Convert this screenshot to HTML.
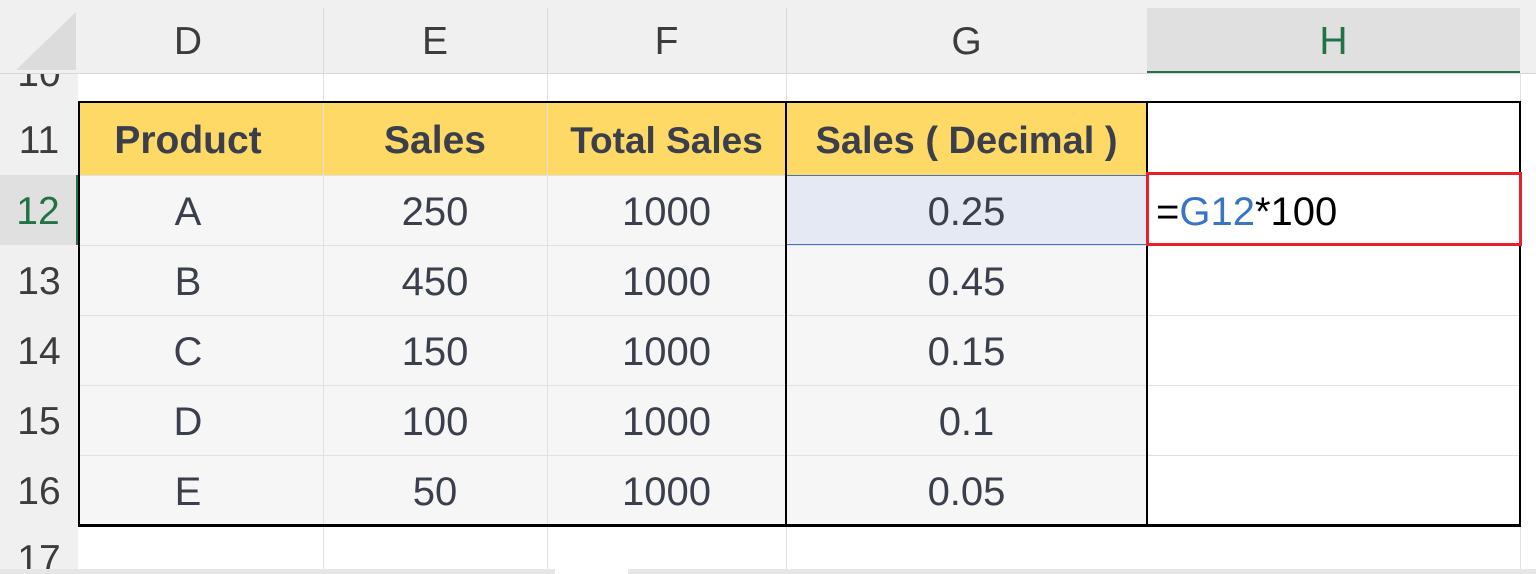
<!DOCTYPE html>
<html><head><style>
body{margin:0;width:1536px;height:574px;overflow:hidden;background:#fff;font-family:"Liberation Sans",sans-serif;position:relative}
div{position:absolute;box-sizing:border-box}
.c{display:flex;align-items:center;justify-content:center;font-size:40px;color:#3a3f4b;padding-top:4px}
.h{font-size:39px;color:#3c3c3c}
.b{font-weight:bold;font-size:39px}
</style></head><body>
<div style="left:0;top:0;width:78px;height:574px;background:#f0f0f0"></div>
<div class="c h" style="left:0;top:52px;width:78px;height:50px;align-items:flex-end;padding-bottom:6px">10</div>
<div style="left:0;top:0;width:1536px;height:73px;background:#f0f0f0"></div>
<div style="left:16px;top:12px;width:0;height:0;border-left:60px solid transparent;border-bottom:58px solid #dcdcdc"></div>
<div style="left:1147px;top:8px;width:373px;height:65px;background:#e0e0e0;border-bottom:2px solid #217346"></div>
<div style="left:0;top:175px;width:78px;height:70px;background:#e0e0e0;border-right:2px solid #217346"></div>
<div class="c h" style="left:78px;top:6px;width:220px;height:68px">D</div>
<div class="c h" style="left:323px;top:6px;width:224px;height:68px">E</div>
<div class="c h" style="left:547px;top:6px;width:239px;height:68px">F</div>
<div class="c h" style="left:786px;top:6px;width:361px;height:68px">G</div>
<div class="c h" style="left:1147px;top:6px;width:373px;height:68px;color:#217346">H</div>
<div style="left:323px;top:8px;width:1px;height:65px;background:#d8d8d8"></div>
<div style="left:547px;top:8px;width:1px;height:65px;background:#d8d8d8"></div>
<div style="left:786px;top:8px;width:1px;height:65px;background:#d8d8d8"></div>
<!-- row numbers -->
<div class="c h" style="left:0;top:103px;width:78px;height:72px">11</div>
<div class="c h" style="left:0;top:175px;width:76px;height:70px;color:#217346">12</div>
<div class="c h" style="left:0;top:245px;width:78px;height:70px">13</div>
<div class="c h" style="left:0;top:315px;width:78px;height:70px">14</div>
<div class="c h" style="left:0;top:385px;width:78px;height:70px">15</div>
<div class="c h" style="left:0;top:455px;width:78px;height:70px">16</div>
<div class="c h" style="left:0;top:538px;width:78px;height:36px;align-items:flex-start;overflow:hidden;padding-top:0">17</div>
<!-- body -->
<div style="left:78px;top:175px;width:1069px;height:350px;background:#f6f6f6"></div>
<div style="left:78px;top:103px;width:1069px;height:72px;background:#ffd966"></div>
<div style="left:786px;top:175px;width:361px;height:70px;background:#e5e9f3;border:1px solid #4472c4"></div>
<!-- gridlines -->
<div style="left:78px;top:245px;width:1442px;height:1px;background:#e0e0e8"></div>
<div style="left:78px;top:315px;width:1442px;height:1px;background:#e0e0e8"></div>
<div style="left:78px;top:385px;width:1442px;height:1px;background:#e0e0e8"></div>
<div style="left:78px;top:455px;width:1442px;height:1px;background:#e0e0e8"></div>
<div style="left:78px;top:175px;width:708px;height:1px;background:#e0e0e8"></div>
<div style="left:323px;top:73px;width:1px;height:501px;background:#e0e0e8"></div>
<div style="left:547px;top:73px;width:1px;height:501px;background:#e0e0e8"></div>
<div style="left:786px;top:73px;width:1px;height:501px;background:#e0e0e8"></div>
<div style="left:1520px;top:73px;width:1px;height:501px;background:#e0e0e8"></div>
<div style="left:0;top:73px;width:1536px;height:1px;background:#d8d8d8"></div>
<!-- thick borders -->
<div style="left:78px;top:101px;width:1443px;height:426px;border:2px solid #000;border-bottom-width:3px"></div>
<div style="left:785px;top:101px;width:2px;height:424px;background:#000"></div>
<div style="left:1146px;top:101px;width:2px;height:424px;background:#000"></div>
<!-- header text -->
<div class="c b" style="left:78px;top:103px;width:220px;height:72px">Product</div>
<div class="c b" style="left:323px;top:103px;width:224px;height:72px">Sales</div>
<div class="c b" style="left:547px;top:103px;width:239px;height:72px;font-size:37px">Total Sales</div>
<div class="c b" style="left:786px;top:103px;width:361px;height:72px;font-size:38px">Sales ( Decimal )</div>
<!-- data -->
<div class="c" style="left:78px;top:175px;width:220px;height:70px">A</div>
<div class="c" style="left:323px;top:175px;width:224px;height:70px">250</div>
<div class="c" style="left:547px;top:175px;width:239px;height:70px">1000</div>
<div class="c" style="left:786px;top:175px;width:361px;height:70px">0.25</div>
<div class="c" style="left:78px;top:245px;width:220px;height:70px">B</div>
<div class="c" style="left:323px;top:245px;width:224px;height:70px">450</div>
<div class="c" style="left:547px;top:245px;width:239px;height:70px">1000</div>
<div class="c" style="left:786px;top:245px;width:361px;height:70px">0.45</div>
<div class="c" style="left:78px;top:315px;width:220px;height:70px">C</div>
<div class="c" style="left:323px;top:315px;width:224px;height:70px">150</div>
<div class="c" style="left:547px;top:315px;width:239px;height:70px">1000</div>
<div class="c" style="left:786px;top:315px;width:361px;height:70px">0.15</div>
<div class="c" style="left:78px;top:385px;width:220px;height:70px">D</div>
<div class="c" style="left:323px;top:385px;width:224px;height:70px">100</div>
<div class="c" style="left:547px;top:385px;width:239px;height:70px">1000</div>
<div class="c" style="left:786px;top:385px;width:361px;height:70px">0.1</div>
<div class="c" style="left:78px;top:455px;width:220px;height:70px">E</div>
<div class="c" style="left:323px;top:455px;width:224px;height:70px">50</div>
<div class="c" style="left:547px;top:455px;width:239px;height:70px">1000</div>
<div class="c" style="left:786px;top:455px;width:361px;height:70px">0.05</div>
<!-- formula cell -->
<div style="left:1146px;top:172px;width:376px;height:74px;border:3px solid #e8202a;background:#fff"></div>
<div class="c" style="left:1156px;top:175px;width:300px;height:70px;justify-content:flex-start;color:#000;font-size:40px">=<span style="color:#3a75c4">G12</span>*100</div>
<div style="left:0;top:569px;width:555px;height:5px;background:#e6e6e6"></div>
<div style="left:628px;top:569px;width:908px;height:5px;background:#e6e6e6"></div>
</body></html>
